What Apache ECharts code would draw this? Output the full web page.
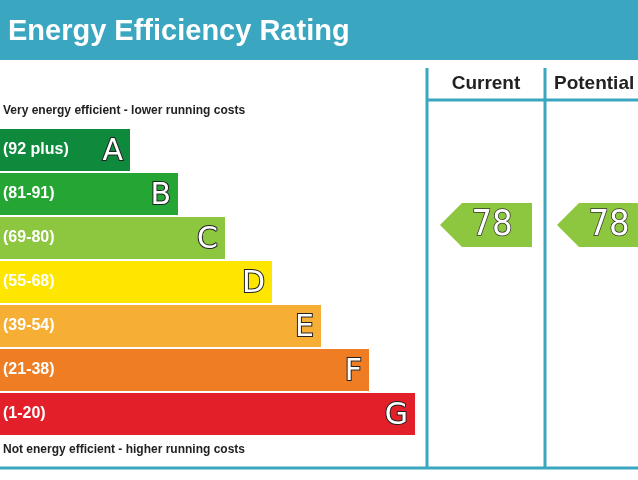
<!DOCTYPE html><html><head><meta charset="utf-8">
<script src="https://cdn.jsdelivr.net/npm/echarts@6/dist/echarts.min.js"></script>
<style>body{margin:0}#c{width:638px;height:480px}</style></head><body><div id="c"></div>
<script>
const bands=['A','B','C','D','E','F','G'];
const ranges=['(92 plus)','(81-91)','(69-80)','(55-68)','(39-54)','(21-38)','(1-20)'];
const widths=[130,178,225,272,321,369,415];
const colors=['#0f8a3c','#25a534','#8dc63f','#ffe600','#f6ae35','#ee7d23','#e3202a'];
const current=78, potential=78;
const teal='#3aa6c0';
const chart=echarts.init(document.getElementById('c'));
function arrow(x0,x1,val){
  const y0=203,y1=247,ym=225;
  return [{type:'polygon',shape:{points:[[x0,ym],[x0+22,y0],[x1,y0],[x1,y1],[x0+22,y1]]},style:{fill:'#8dc63f'}},
  {type:'text',x:x0+52,y:ym+1,style:{text:String(val),fill:'#fff',stroke:'#333',lineWidth:1.5,font:'36px "DejaVu Sans Condensed", sans-serif',align:'center',verticalAlign:'middle'}}];
}
chart.setOption({
  animation:false,
  grid:{left:0,right:0,top:128,bottom:44},
  xAxis:{type:'value',min:0,max:638,show:false},
  yAxis:{type:'category',data:bands,inverse:true,show:false},
  series:[{type:'bar',barCategoryGap:'5%',
    data:widths.map((w,i)=>({value:w,itemStyle:{color:colors[i]}})),
    label:{show:true,position:'insideLeft',offset:[-2,0],formatter:p=>ranges[p.dataIndex],color:'#fff',fontWeight:'bold',fontSize:16,fontFamily:'Liberation Sans'}},
   {type:'bar',barGap:'-100%',barCategoryGap:'5%',data:widths,itemStyle:{color:'transparent'},
    label:{show:true,position:'insideRight',offset:[-2,2],formatter:p=>bands[p.dataIndex],color:'#fff',textBorderColor:'#222',textBorderWidth:2,fontSize:30,fontFamily:'DejaVu Sans'}}],
  graphic:[
    {type:'rect',shape:{x:0,y:0,width:638,height:60},style:{fill:teal}},
    {type:'text',x:8,y:32,style:{text:'Energy Efficiency Rating',fill:'#fff',font:'bold 29px "Liberation Sans", sans-serif',verticalAlign:'middle'}},
    {type:'line',shape:{x1:427,y1:68,x2:427,y2:468},style:{stroke:teal,lineWidth:3}},
    {type:'line',shape:{x1:545,y1:68,x2:545,y2:468},style:{stroke:teal,lineWidth:3}},
    {type:'line',shape:{x1:427,y1:100,x2:638,y2:100},style:{stroke:teal,lineWidth:3}},
    {type:'line',shape:{x1:0,y1:468,x2:638,y2:468},style:{stroke:teal,lineWidth:3}},
    {type:'text',x:486,y:84,style:{text:'Current',fill:'#222',font:'bold 19px "Liberation Sans"',align:'center',verticalAlign:'middle'}},
    {type:'text',x:554,y:84,style:{text:'Potential',fill:'#222',font:'bold 19px "Liberation Sans"',verticalAlign:'middle'}},
    {type:'text',x:3,y:111,style:{text:'Very energy efficient - lower running costs',fill:'#222',font:'bold 12px "Liberation Sans"',verticalAlign:'middle'}},
    {type:'text',x:3,y:450,style:{text:'Not energy efficient - higher running costs',fill:'#222',font:'bold 12px "Liberation Sans"',verticalAlign:'middle'}},
    ...arrow(440,532,current),...arrow(557,650,potential)
  ]
});
</script></body></html>
